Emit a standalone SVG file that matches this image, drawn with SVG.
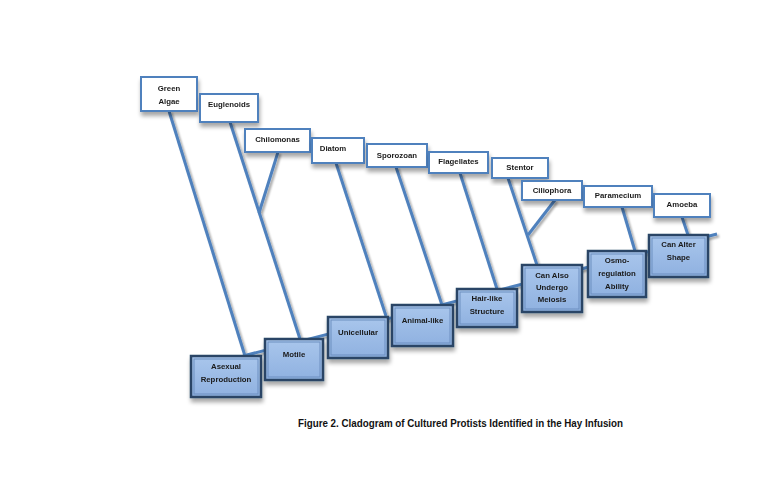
<svg xmlns="http://www.w3.org/2000/svg" width="768" height="503" viewBox="0 0 768 503">
<defs>
<filter id="sh" x="-20%" y="-20%" width="150%" height="160%">
<feGaussianBlur in="SourceAlpha" stdDeviation="2"/>
<feOffset dx="1" dy="4"/>
<feComponentTransfer><feFuncA type="linear" slope="0.35"/></feComponentTransfer>
<feMerge><feMergeNode/><feMergeNode in="SourceGraphic"/></feMerge>
</filter>
<filter id="lsh" x="-20%" y="-5%" width="140%" height="110%">
<feGaussianBlur in="SourceAlpha" stdDeviation="1.2"/>
<feOffset dx="2" dy="2"/>
<feComponentTransfer><feFuncA type="linear" slope="0.35"/></feComponentTransfer>
<feMerge><feMergeNode/><feMergeNode in="SourceGraphic"/></feMerge>
</filter>
<linearGradient id="bg" x1="0" y1="0" x2="0" y2="1">
<stop offset="0" stop-color="#a9c6ec"/>
<stop offset="1" stop-color="#8fb1e0"/>
</linearGradient>
</defs>
<style>
.ln{stroke:#4f81bd;stroke-width:3;fill:none;stroke-linecap:butt}
.lb rect{fill:#ffffff;stroke:#4f81bd;stroke-width:2}
.tr rect.o{fill:url(#bg);stroke:#2a4466;stroke-width:2.5}
.tr rect.i{fill:none;stroke:#6d8fc0;stroke-width:1}
text{font-family:"Liberation Sans",Arial,sans-serif;font-weight:bold;font-size:7.8px;fill:#1a1a1a;text-anchor:middle}
.cap{font-size:10px;fill:#111;text-anchor:start}
</style>
<rect width="768" height="503" fill="#ffffff"/>
<g id="connectors" filter="url(#lsh)">
<path class="ln" d="M243,356 L717,234"/>
<path class="ln" d="M169,111 L245,356"/>
<path class="ln" d="M230,122 L300,339"/>
<path class="ln" d="M278,152 L259,213"/>
<path class="ln" d="M336,163 L386,316"/>
<path class="ln" d="M396,167 L442,305"/>
<path class="ln" d="M460,173 L497,289"/>
<path class="ln" d="M508,178 L537,265"/>
<path class="ln" d="M555,200 L528,235"/>
<path class="ln" d="M622,207 L635,251"/>
<path class="ln" d="M682,217 L688,235"/>
</g>
<g id="green-algae" class="lb" filter="url(#sh)"><rect x="141" y="77" width="56" height="34"/><text x="169" y="90.5">Green</text><text x="169" y="103.5">Algae</text></g>
<g id="euglenoids" class="lb" filter="url(#sh)"><rect x="200" y="94" width="58" height="28"/><text x="229" y="107">Euglenoids</text></g>
<g id="chilomonas" class="lb" filter="url(#sh)"><rect x="245" y="129" width="65" height="23"/><text x="277.5" y="142">Chilomonas</text></g>
<g id="diatom" class="lb" filter="url(#sh)"><rect x="312" y="138" width="52" height="25"/><text x="333" y="151">Diatom</text></g>
<g id="sporozoan" class="lb" filter="url(#sh)"><rect x="367" y="144" width="60" height="23"/><text x="397" y="157.5">Sporozoan</text></g>
<g id="flagellates" class="lb" filter="url(#sh)"><rect x="429" y="152" width="59" height="21"/><text x="458.5" y="163.5">Flagellates</text></g>
<g id="stentor" class="lb" filter="url(#sh)"><rect x="492" y="158" width="56" height="20"/><text x="520" y="170">Stentor</text></g>
<g id="ciliophora" class="lb" filter="url(#sh)"><rect x="522" y="181" width="60" height="19"/><text x="552" y="193">Ciliophora</text></g>
<g id="paramecium" class="lb" filter="url(#sh)"><rect x="584" y="186" width="68" height="21"/><text x="618" y="197.5">Paramecium</text></g>
<g id="amoeba" class="lb" filter="url(#sh)"><rect x="654" y="194" width="56" height="23"/><text x="682" y="206.5">Amoeba</text></g>
<g id="asexual-reproduction" class="tr" filter="url(#sh)"><rect class="o" x="191" y="356" width="70" height="41"/><rect class="i" x="194" y="359" width="64" height="35"/><text x="226" y="368.5">Asexual</text><text x="226" y="381.5">Reproduction</text></g>
<g id="motile" class="tr" filter="url(#sh)"><rect class="o" x="265" y="339" width="58" height="41"/><rect class="i" x="268" y="342" width="52" height="35"/><text x="294" y="357">Motile</text></g>
<g id="unicellular" class="tr" filter="url(#sh)"><rect class="o" x="328" y="317" width="60" height="41"/><rect class="i" x="331" y="320" width="54" height="35"/><text x="358" y="335">Unicellular</text></g>
<g id="animal-like" class="tr" filter="url(#sh)"><rect class="o" x="392" y="305" width="61" height="41"/><rect class="i" x="395" y="308" width="55" height="35"/><text x="422.5" y="323">Animal-like</text></g>
<g id="hair-like-structure" class="tr" filter="url(#sh)"><rect class="o" x="457" y="289" width="60" height="38"/><rect class="i" x="460" y="292" width="54" height="32"/><text x="487" y="301">Hair-like</text><text x="487" y="313.5">Structure</text></g>
<g id="meiosis" class="tr" filter="url(#sh)"><rect class="o" x="522" y="265" width="60" height="47"/><rect class="i" x="525" y="268" width="54" height="41"/><text x="552" y="277.5">Can Also</text><text x="552" y="289.5">Undergo</text><text x="552" y="302">Meiosis</text></g>
<g id="osmoregulation" class="tr" filter="url(#sh)"><rect class="o" x="588" y="251" width="58" height="46"/><rect class="i" x="591" y="254" width="52" height="40"/><text x="617" y="263">Osmo-</text><text x="617" y="276">regulation</text><text x="617" y="288.5">Ability</text></g>
<g id="can-alter-shape" class="tr" filter="url(#sh)"><rect class="o" x="649" y="235" width="59" height="42"/><rect class="i" x="652" y="238" width="53" height="36"/><text x="678.5" y="246.5">Can Alter</text><text x="678.5" y="259.5">Shape</text></g>
<text class="cap" x="298" y="427" textLength="325" lengthAdjust="spacingAndGlyphs">Figure 2. Cladogram of Cultured Protists Identified in the Hay Infusion</text>
</svg>
